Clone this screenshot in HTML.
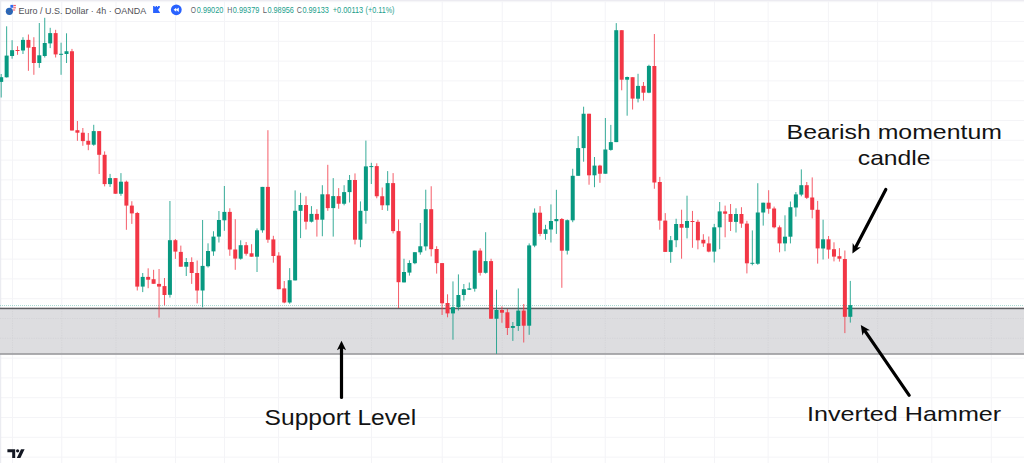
<!DOCTYPE html>
<html><head><meta charset="utf-8"><title>EUR/USD chart</title>
<style>html,body{margin:0;padding:0;background:#fff;width:1024px;height:463px;overflow:hidden}svg{display:block}</style>
</head><body>
<svg width="1024" height="463" viewBox="0 0 1024 463">
<rect x="12" y="0" width="1" height="463" fill="#f4f4f7"/>
<rect x="61.25" y="0" width="1" height="463" fill="#f4f4f7"/>
<rect x="115.5" y="0" width="1" height="463" fill="#f4f4f7"/>
<rect x="175" y="0" width="1" height="463" fill="#f4f4f7"/>
<rect x="224" y="0" width="1" height="463" fill="#f4f4f7"/>
<rect x="278" y="0" width="1" height="463" fill="#f4f4f7"/>
<rect x="371" y="0" width="1" height="463" fill="#f4f4f7"/>
<rect x="441.75" y="0" width="1" height="463" fill="#f4f4f7"/>
<rect x="501.75" y="0" width="1" height="463" fill="#f4f4f7"/>
<rect x="550.75" y="0" width="1" height="463" fill="#f4f4f7"/>
<rect x="604.75" y="0" width="1" height="463" fill="#f4f4f7"/>
<rect x="664" y="0" width="1" height="463" fill="#f4f4f7"/>
<rect x="714" y="0" width="1" height="463" fill="#f4f4f7"/>
<rect x="767.6" y="0" width="1" height="463" fill="#f4f4f7"/>
<rect x="827.9" y="0" width="1" height="463" fill="#f4f4f7"/>
<rect x="877.1" y="0" width="1" height="463" fill="#f4f4f7"/>
<rect x="931.3" y="0" width="1" height="463" fill="#f4f4f7"/>
<rect x="990.8" y="0" width="1" height="463" fill="#f4f4f7"/>
<rect x="0" y="1.2" width="1024" height="1" fill="#f4f4f7"/>
<rect x="0" y="21" width="1024" height="1" fill="#f4f4f7"/>
<rect x="0" y="40.8" width="1024" height="1" fill="#f4f4f7"/>
<rect x="0" y="60.6" width="1024" height="1" fill="#f4f4f7"/>
<rect x="0" y="80.4" width="1024" height="1" fill="#f4f4f7"/>
<rect x="0" y="100.2" width="1024" height="1" fill="#f4f4f7"/>
<rect x="0" y="120" width="1024" height="1" fill="#f4f4f7"/>
<rect x="0" y="139.8" width="1024" height="1" fill="#f4f4f7"/>
<rect x="0" y="159.6" width="1024" height="1" fill="#f4f4f7"/>
<rect x="0" y="179.4" width="1024" height="1" fill="#f4f4f7"/>
<rect x="0" y="199.2" width="1024" height="1" fill="#f4f4f7"/>
<rect x="0" y="219" width="1024" height="1" fill="#f4f4f7"/>
<rect x="0" y="238.8" width="1024" height="1" fill="#f4f4f7"/>
<rect x="0" y="258.6" width="1024" height="1" fill="#f4f4f7"/>
<rect x="0" y="278.4" width="1024" height="1" fill="#f4f4f7"/>
<rect x="0" y="298.2" width="1024" height="1" fill="#f4f4f7"/>
<rect x="0" y="318" width="1024" height="1" fill="#f4f4f7"/>
<rect x="0" y="337.8" width="1024" height="1" fill="#f4f4f7"/>
<rect x="0" y="357.6" width="1024" height="1" fill="#f4f4f7"/>
<rect x="0" y="377.4" width="1024" height="1" fill="#f4f4f7"/>
<rect x="0" y="397.2" width="1024" height="1" fill="#f4f4f7"/>
<rect x="0" y="417" width="1024" height="1" fill="#f4f4f7"/>
<rect x="0" y="436.8" width="1024" height="1" fill="#f4f4f7"/>
<rect x="0" y="456.6" width="1024" height="1" fill="#f4f4f7"/>
<rect x="0" y="0" width="1024" height="1" fill="#ecebf1"/>
<rect x="0" y="0" width="1.2" height="463" fill="#ebecf1"/>
<rect x="0" y="308.5" width="1024" height="45.5" fill="#dddde0"/>
<line x1="0" y1="318.5" x2="1024" y2="318.5" stroke="#d2d2d5" stroke-width="0.8" stroke-dasharray="1.2,1.2"/>
<line x1="0" y1="338.3" x2="1024" y2="338.3" stroke="#d2d2d5" stroke-width="0.8" stroke-dasharray="1.2,1.2"/>
<line x1="12.5" y1="308.5" x2="12.5" y2="354.0" stroke="#d2d2d5" stroke-width="0.8" stroke-dasharray="1.2,1.2"/>
<line x1="61.75" y1="308.5" x2="61.75" y2="354.0" stroke="#d2d2d5" stroke-width="0.8" stroke-dasharray="1.2,1.2"/>
<line x1="116" y1="308.5" x2="116" y2="354.0" stroke="#d2d2d5" stroke-width="0.8" stroke-dasharray="1.2,1.2"/>
<line x1="175.5" y1="308.5" x2="175.5" y2="354.0" stroke="#d2d2d5" stroke-width="0.8" stroke-dasharray="1.2,1.2"/>
<line x1="224.5" y1="308.5" x2="224.5" y2="354.0" stroke="#d2d2d5" stroke-width="0.8" stroke-dasharray="1.2,1.2"/>
<line x1="278.5" y1="308.5" x2="278.5" y2="354.0" stroke="#d2d2d5" stroke-width="0.8" stroke-dasharray="1.2,1.2"/>
<line x1="371.5" y1="308.5" x2="371.5" y2="354.0" stroke="#d2d2d5" stroke-width="0.8" stroke-dasharray="1.2,1.2"/>
<line x1="442.25" y1="308.5" x2="442.25" y2="354.0" stroke="#d2d2d5" stroke-width="0.8" stroke-dasharray="1.2,1.2"/>
<line x1="502.25" y1="308.5" x2="502.25" y2="354.0" stroke="#d2d2d5" stroke-width="0.8" stroke-dasharray="1.2,1.2"/>
<line x1="551.25" y1="308.5" x2="551.25" y2="354.0" stroke="#d2d2d5" stroke-width="0.8" stroke-dasharray="1.2,1.2"/>
<line x1="605.25" y1="308.5" x2="605.25" y2="354.0" stroke="#d2d2d5" stroke-width="0.8" stroke-dasharray="1.2,1.2"/>
<line x1="664.5" y1="308.5" x2="664.5" y2="354.0" stroke="#d2d2d5" stroke-width="0.8" stroke-dasharray="1.2,1.2"/>
<line x1="714.5" y1="308.5" x2="714.5" y2="354.0" stroke="#d2d2d5" stroke-width="0.8" stroke-dasharray="1.2,1.2"/>
<line x1="768.1" y1="308.5" x2="768.1" y2="354.0" stroke="#d2d2d5" stroke-width="0.8" stroke-dasharray="1.2,1.2"/>
<line x1="828.4" y1="308.5" x2="828.4" y2="354.0" stroke="#d2d2d5" stroke-width="0.8" stroke-dasharray="1.2,1.2"/>
<line x1="877.6" y1="308.5" x2="877.6" y2="354.0" stroke="#d2d2d5" stroke-width="0.8" stroke-dasharray="1.2,1.2"/>
<line x1="931.8" y1="308.5" x2="931.8" y2="354.0" stroke="#d2d2d5" stroke-width="0.8" stroke-dasharray="1.2,1.2"/>
<line x1="991.3" y1="308.5" x2="991.3" y2="354.0" stroke="#d2d2d5" stroke-width="0.8" stroke-dasharray="1.2,1.2"/>
<rect x="0" y="307.7" width="1024" height="1.5" fill="#5d5d60"/>
<rect x="0" y="353.2" width="1024" height="1.6" fill="#9a9a9d"/>
<rect x="0.7" y="74" width="1" height="23.5" fill="#089981" opacity="0.8"/>
<rect x="-0.8" y="77.2" width="4" height="4.7" fill="#089981"/>
<rect x="6.14" y="26.3" width="1" height="51.2" fill="#089981" opacity="0.8"/>
<rect x="4.64" y="55.6" width="4" height="21.7" fill="#089981"/>
<rect x="11.59" y="40.2" width="1" height="18.5" fill="#089981" opacity="0.8"/>
<rect x="10.09" y="50.2" width="4" height="5.8" fill="#089981"/>
<rect x="17.03" y="46.2" width="1" height="8.6" fill="#F23645" opacity="0.8"/>
<rect x="15.53" y="50" width="4" height="1" fill="#F23645"/>
<rect x="22.47" y="37.2" width="1" height="16.8" fill="#089981" opacity="0.8"/>
<rect x="20.97" y="39.9" width="4" height="10.6" fill="#089981"/>
<rect x="27.91" y="34.5" width="1" height="36.3" fill="#F23645" opacity="0.8"/>
<rect x="26.41" y="39.9" width="4" height="7.8" fill="#F23645"/>
<rect x="33.36" y="37.2" width="1" height="37.6" fill="#F23645" opacity="0.8"/>
<rect x="31.86" y="47" width="4" height="16" fill="#F23645"/>
<rect x="38.8" y="23" width="1" height="44.8" fill="#089981" opacity="0.8"/>
<rect x="37.3" y="55.3" width="4" height="7.7" fill="#089981"/>
<rect x="44.24" y="17.8" width="1" height="39.7" fill="#089981" opacity="0.8"/>
<rect x="42.74" y="43" width="4" height="13" fill="#089981"/>
<rect x="49.69" y="27.8" width="1" height="20.3" fill="#089981" opacity="0.8"/>
<rect x="48.19" y="33.1" width="4" height="10.3" fill="#089981"/>
<rect x="55.13" y="29.8" width="1" height="27.7" fill="#F23645" opacity="0.8"/>
<rect x="53.63" y="33.1" width="4" height="21.3" fill="#F23645"/>
<rect x="60.57" y="42.7" width="1" height="32.1" fill="#089981" opacity="0.8"/>
<rect x="59.07" y="53.8" width="4" height="1" fill="#089981"/>
<rect x="66.02" y="33.3" width="1" height="29.7" fill="#089981" opacity="0.8"/>
<rect x="64.52" y="51.25" width="4" height="2.75" fill="#089981"/>
<rect x="71.46" y="48.9" width="1" height="81.6" fill="#F23645" opacity="0.8"/>
<rect x="69.96" y="51.25" width="4" height="79.25" fill="#F23645"/>
<rect x="76.9" y="121" width="1" height="19.8" fill="#F23645" opacity="0.8"/>
<rect x="75.4" y="130.2" width="4" height="2.5" fill="#F23645"/>
<rect x="82.34" y="128" width="1" height="17.8" fill="#F23645" opacity="0.8"/>
<rect x="80.84" y="132.7" width="4" height="8.4" fill="#F23645"/>
<rect x="87.79" y="133" width="1" height="17.2" fill="#F23645" opacity="0.8"/>
<rect x="86.29" y="140.8" width="4" height="3.9" fill="#F23645"/>
<rect x="93.23" y="124.8" width="1" height="21" fill="#089981" opacity="0.8"/>
<rect x="91.73" y="131.1" width="4" height="13.6" fill="#089981"/>
<rect x="98.67" y="131.1" width="1" height="42.9" fill="#F23645" opacity="0.8"/>
<rect x="97.17" y="131.1" width="4" height="23.7" fill="#F23645"/>
<rect x="104.12" y="151.4" width="1" height="35" fill="#F23645" opacity="0.8"/>
<rect x="102.62" y="154.8" width="4" height="29.3" fill="#F23645"/>
<rect x="109.56" y="173.9" width="1" height="13" fill="#089981" opacity="0.8"/>
<rect x="108.06" y="178.1" width="4" height="6" fill="#089981"/>
<rect x="115" y="178.1" width="1" height="15.65" fill="#F23645" opacity="0.8"/>
<rect x="113.5" y="178.1" width="4" height="15.65" fill="#F23645"/>
<rect x="120.45" y="173.1" width="1" height="22.7" fill="#089981" opacity="0.8"/>
<rect x="118.95" y="181.7" width="4" height="12.05" fill="#089981"/>
<rect x="125.89" y="180.6" width="1" height="49.2" fill="#F23645" opacity="0.8"/>
<rect x="124.39" y="181.7" width="4" height="23.9" fill="#F23645"/>
<rect x="131.33" y="201.25" width="1" height="22.65" fill="#F23645" opacity="0.8"/>
<rect x="129.83" y="205.6" width="4" height="7.8" fill="#F23645"/>
<rect x="136.77" y="211.9" width="1" height="78.6" fill="#F23645" opacity="0.8"/>
<rect x="135.27" y="213" width="4" height="73.6" fill="#F23645"/>
<rect x="142.22" y="273" width="1" height="19.1" fill="#089981" opacity="0.8"/>
<rect x="140.72" y="276.9" width="4" height="9.7" fill="#089981"/>
<rect x="147.66" y="268.3" width="1" height="19.9" fill="#F23645" opacity="0.8"/>
<rect x="146.16" y="276.9" width="4" height="2.8" fill="#F23645"/>
<rect x="153.1" y="269.8" width="1" height="14" fill="#F23645" opacity="0.8"/>
<rect x="151.6" y="279.2" width="4" height="4.6" fill="#F23645"/>
<rect x="158.55" y="269" width="1" height="48.6" fill="#F23645" opacity="0.8"/>
<rect x="157.05" y="283.9" width="4" height="2.7" fill="#F23645"/>
<rect x="163.99" y="278" width="1" height="27.4" fill="#F23645" opacity="0.8"/>
<rect x="162.49" y="286.1" width="4" height="8.9" fill="#F23645"/>
<rect x="169.43" y="201" width="1" height="96.6" fill="#089981" opacity="0.8"/>
<rect x="167.93" y="240.2" width="4" height="54.6" fill="#089981"/>
<rect x="174.88" y="239" width="1" height="19.9" fill="#F23645" opacity="0.8"/>
<rect x="173.38" y="240.2" width="4" height="11.4" fill="#F23645"/>
<rect x="180.32" y="245.6" width="1" height="21.1" fill="#F23645" opacity="0.8"/>
<rect x="178.82" y="251.9" width="4" height="14.8" fill="#F23645"/>
<rect x="185.76" y="258" width="1" height="18" fill="#089981" opacity="0.8"/>
<rect x="184.26" y="262" width="4" height="4.7" fill="#089981"/>
<rect x="191.2" y="257.3" width="1" height="26.6" fill="#F23645" opacity="0.8"/>
<rect x="189.7" y="262" width="4" height="11" fill="#F23645"/>
<rect x="196.65" y="260.5" width="1" height="42.9" fill="#F23645" opacity="0.8"/>
<rect x="195.15" y="273" width="4" height="17.5" fill="#F23645"/>
<rect x="202.09" y="220" width="1" height="87.3" fill="#089981" opacity="0.8"/>
<rect x="200.59" y="265.9" width="4" height="24.6" fill="#089981"/>
<rect x="207.53" y="243.3" width="1" height="24.2" fill="#089981" opacity="0.8"/>
<rect x="206.03" y="251" width="4" height="15.25" fill="#089981"/>
<rect x="212.98" y="231.25" width="1" height="24.55" fill="#089981" opacity="0.8"/>
<rect x="211.48" y="236.6" width="4" height="14.8" fill="#089981"/>
<rect x="218.42" y="211" width="1" height="31.5" fill="#089981" opacity="0.8"/>
<rect x="216.92" y="220" width="4" height="16.6" fill="#089981"/>
<rect x="223.86" y="186" width="1" height="44.8" fill="#089981" opacity="0.8"/>
<rect x="222.36" y="211.9" width="4" height="8.4" fill="#089981"/>
<rect x="229.31" y="208.3" width="1" height="47.5" fill="#F23645" opacity="0.8"/>
<rect x="227.81" y="211.9" width="4" height="37.6" fill="#F23645"/>
<rect x="234.75" y="219.2" width="1" height="50.6" fill="#F23645" opacity="0.8"/>
<rect x="233.25" y="249.5" width="4" height="9.1" fill="#F23645"/>
<rect x="240.19" y="240.3" width="1" height="19.4" fill="#089981" opacity="0.8"/>
<rect x="238.69" y="245.2" width="4" height="13.5" fill="#089981"/>
<rect x="245.63" y="242" width="1" height="13.6" fill="#F23645" opacity="0.8"/>
<rect x="244.13" y="245.2" width="4" height="8.55" fill="#F23645"/>
<rect x="251.08" y="244.2" width="1" height="12.5" fill="#F23645" opacity="0.8"/>
<rect x="249.58" y="253.3" width="4" height="3.4" fill="#F23645"/>
<rect x="256.52" y="228.4" width="1" height="43.6" fill="#089981" opacity="0.8"/>
<rect x="255.02" y="230.3" width="4" height="26.4" fill="#089981"/>
<rect x="261.96" y="186.9" width="1" height="45.8" fill="#089981" opacity="0.8"/>
<rect x="260.46" y="186.9" width="4" height="43.4" fill="#089981"/>
<rect x="267.41" y="130.2" width="1" height="112.6" fill="#F23645" opacity="0.8"/>
<rect x="265.91" y="186.9" width="4" height="52.8" fill="#F23645"/>
<rect x="272.85" y="235.8" width="1" height="26.9" fill="#F23645" opacity="0.8"/>
<rect x="271.35" y="239.4" width="4" height="16.6" fill="#F23645"/>
<rect x="278.29" y="252.2" width="1" height="37" fill="#F23645" opacity="0.8"/>
<rect x="276.79" y="255.6" width="4" height="33.6" fill="#F23645"/>
<rect x="283.74" y="281" width="1" height="22.3" fill="#F23645" opacity="0.8"/>
<rect x="282.24" y="288.4" width="4" height="14.1" fill="#F23645"/>
<rect x="289.18" y="268.1" width="1" height="35.65" fill="#089981" opacity="0.8"/>
<rect x="287.68" y="280.2" width="4" height="22.3" fill="#089981"/>
<rect x="294.62" y="190.4" width="1" height="90" fill="#089981" opacity="0.8"/>
<rect x="293.12" y="210.8" width="4" height="69.6" fill="#089981"/>
<rect x="300.06" y="192.8" width="1" height="45.3" fill="#089981" opacity="0.8"/>
<rect x="298.56" y="205" width="4" height="5.8" fill="#089981"/>
<rect x="305.51" y="196.3" width="1" height="33.2" fill="#F23645" opacity="0.8"/>
<rect x="304.01" y="205" width="4" height="16.7" fill="#F23645"/>
<rect x="310.95" y="206.1" width="1" height="16.4" fill="#089981" opacity="0.8"/>
<rect x="309.45" y="213.9" width="4" height="7.8" fill="#089981"/>
<rect x="316.39" y="209.2" width="1" height="27.4" fill="#F23645" opacity="0.8"/>
<rect x="314.89" y="213.9" width="4" height="5.8" fill="#F23645"/>
<rect x="321.84" y="185.2" width="1" height="51.05" fill="#089981" opacity="0.8"/>
<rect x="320.34" y="194.3" width="4" height="25.4" fill="#089981"/>
<rect x="327.28" y="164.8" width="1" height="46" fill="#F23645" opacity="0.8"/>
<rect x="325.78" y="194.3" width="4" height="13.8" fill="#F23645"/>
<rect x="332.72" y="178.1" width="1" height="58.5" fill="#089981" opacity="0.8"/>
<rect x="331.22" y="196.1" width="4" height="12" fill="#089981"/>
<rect x="338.17" y="188.1" width="1" height="20.65" fill="#F23645" opacity="0.8"/>
<rect x="336.67" y="196.1" width="4" height="7.65" fill="#F23645"/>
<rect x="343.61" y="185.2" width="1" height="20.1" fill="#089981" opacity="0.8"/>
<rect x="342.11" y="192.1" width="4" height="11.65" fill="#089981"/>
<rect x="349.05" y="175" width="1" height="27.5" fill="#089981" opacity="0.8"/>
<rect x="347.55" y="180" width="4" height="12.1" fill="#089981"/>
<rect x="354.49" y="173.4" width="1" height="71" fill="#F23645" opacity="0.8"/>
<rect x="352.99" y="180" width="4" height="59.7" fill="#F23645"/>
<rect x="359.94" y="201.4" width="1" height="45.8" fill="#089981" opacity="0.8"/>
<rect x="358.44" y="210.8" width="4" height="28.9" fill="#089981"/>
<rect x="365.38" y="140.6" width="1" height="83.15" fill="#089981" opacity="0.8"/>
<rect x="363.88" y="166.4" width="4" height="44.4" fill="#089981"/>
<rect x="370.82" y="162.8" width="1" height="21.2" fill="#089981" opacity="0.8"/>
<rect x="369.32" y="166.1" width="4" height="1" fill="#089981"/>
<rect x="376.27" y="163.3" width="1" height="35" fill="#F23645" opacity="0.8"/>
<rect x="374.77" y="166.1" width="4" height="30.15" fill="#F23645"/>
<rect x="381.71" y="187.5" width="1" height="22.5" fill="#F23645" opacity="0.8"/>
<rect x="380.21" y="196.25" width="4" height="9.05" fill="#F23645"/>
<rect x="387.15" y="171.1" width="1" height="39.7" fill="#089981" opacity="0.8"/>
<rect x="385.65" y="183.1" width="4" height="22.2" fill="#089981"/>
<rect x="392.6" y="173.1" width="1" height="60.3" fill="#F23645" opacity="0.8"/>
<rect x="391.1" y="183.1" width="4" height="48" fill="#F23645"/>
<rect x="398.04" y="219.4" width="1" height="88.6" fill="#F23645" opacity="0.8"/>
<rect x="396.54" y="231.1" width="4" height="51.1" fill="#F23645"/>
<rect x="403.48" y="258.75" width="1" height="23.65" fill="#089981" opacity="0.8"/>
<rect x="401.98" y="272" width="4" height="10.4" fill="#089981"/>
<rect x="408.92" y="260.3" width="1" height="15.3" fill="#089981" opacity="0.8"/>
<rect x="407.42" y="263" width="4" height="9.6" fill="#089981"/>
<rect x="414.37" y="252.2" width="1" height="12" fill="#089981" opacity="0.8"/>
<rect x="412.87" y="252.2" width="4" height="11" fill="#089981"/>
<rect x="419.81" y="223" width="1" height="31.7" fill="#089981" opacity="0.8"/>
<rect x="418.31" y="246.25" width="4" height="6.05" fill="#089981"/>
<rect x="425.25" y="189.7" width="1" height="60.9" fill="#089981" opacity="0.8"/>
<rect x="423.75" y="209.2" width="4" height="37.2" fill="#089981"/>
<rect x="430.7" y="186.25" width="1" height="70.15" fill="#F23645" opacity="0.8"/>
<rect x="429.2" y="209.2" width="4" height="40" fill="#F23645"/>
<rect x="436.14" y="246.25" width="1" height="27.35" fill="#F23645" opacity="0.8"/>
<rect x="434.64" y="249" width="4" height="14.1" fill="#F23645"/>
<rect x="441.58" y="263.1" width="1" height="51.9" fill="#F23645" opacity="0.8"/>
<rect x="440.08" y="263.1" width="4" height="40.2" fill="#F23645"/>
<rect x="447.03" y="294.3" width="1" height="23" fill="#F23645" opacity="0.8"/>
<rect x="445.53" y="303" width="4" height="10.4" fill="#F23645"/>
<rect x="452.47" y="281.4" width="1" height="58.3" fill="#089981" opacity="0.8"/>
<rect x="450.97" y="307.2" width="4" height="6.2" fill="#089981"/>
<rect x="457.91" y="274.4" width="1" height="36.1" fill="#089981" opacity="0.8"/>
<rect x="456.41" y="295" width="4" height="12.2" fill="#089981"/>
<rect x="463.35" y="284" width="1" height="16.6" fill="#089981" opacity="0.8"/>
<rect x="461.85" y="289.2" width="4" height="5.8" fill="#089981"/>
<rect x="468.8" y="282.5" width="1" height="7.5" fill="#089981" opacity="0.8"/>
<rect x="467.3" y="288.4" width="4" height="1.3" fill="#089981"/>
<rect x="474.24" y="250.6" width="1" height="41" fill="#089981" opacity="0.8"/>
<rect x="472.74" y="250.6" width="4" height="38.15" fill="#089981"/>
<rect x="479.68" y="248.3" width="1" height="27.3" fill="#F23645" opacity="0.8"/>
<rect x="478.18" y="250.6" width="4" height="22.2" fill="#F23645"/>
<rect x="485.13" y="232.2" width="1" height="41.4" fill="#089981" opacity="0.8"/>
<rect x="483.63" y="261.1" width="4" height="11.7" fill="#089981"/>
<rect x="490.57" y="258.75" width="1" height="60" fill="#F23645" opacity="0.8"/>
<rect x="489.07" y="261.1" width="4" height="57.65" fill="#F23645"/>
<rect x="496.01" y="289.7" width="1" height="64.1" fill="#089981" opacity="0.8"/>
<rect x="494.51" y="310" width="4" height="8.75" fill="#089981"/>
<rect x="501.46" y="306.4" width="1" height="16.4" fill="#F23645" opacity="0.8"/>
<rect x="499.96" y="310" width="4" height="2.7" fill="#F23645"/>
<rect x="506.9" y="309" width="1" height="26" fill="#F23645" opacity="0.8"/>
<rect x="505.4" y="312.3" width="4" height="15.7" fill="#F23645"/>
<rect x="512.34" y="322" width="1" height="18.9" fill="#089981" opacity="0.8"/>
<rect x="510.84" y="326" width="4" height="1.9" fill="#089981"/>
<rect x="517.78" y="288.4" width="1" height="42.5" fill="#089981" opacity="0.8"/>
<rect x="516.28" y="310.6" width="4" height="15.4" fill="#089981"/>
<rect x="523.23" y="304" width="1" height="38.5" fill="#F23645" opacity="0.8"/>
<rect x="521.73" y="310.6" width="4" height="15.1" fill="#F23645"/>
<rect x="528.67" y="243.4" width="1" height="91.4" fill="#089981" opacity="0.8"/>
<rect x="527.17" y="245.4" width="4" height="80.3" fill="#089981"/>
<rect x="534.11" y="208.4" width="1" height="38.8" fill="#089981" opacity="0.8"/>
<rect x="532.61" y="212.7" width="4" height="32.9" fill="#089981"/>
<rect x="539.56" y="206.1" width="1" height="30.15" fill="#F23645" opacity="0.8"/>
<rect x="538.06" y="212.7" width="4" height="21.2" fill="#F23645"/>
<rect x="545" y="224.8" width="1" height="14.9" fill="#089981" opacity="0.8"/>
<rect x="543.5" y="229.3" width="4" height="4.6" fill="#089981"/>
<rect x="550.44" y="204.4" width="1" height="38.1" fill="#089981" opacity="0.8"/>
<rect x="548.94" y="221" width="4" height="8.5" fill="#089981"/>
<rect x="555.89" y="189.8" width="1" height="44.1" fill="#089981" opacity="0.8"/>
<rect x="554.39" y="219" width="4" height="2.2" fill="#089981"/>
<rect x="561.33" y="218" width="1" height="69.8" fill="#F23645" opacity="0.8"/>
<rect x="559.83" y="219" width="4" height="31.7" fill="#F23645"/>
<rect x="566.77" y="219.5" width="1" height="35" fill="#089981" opacity="0.8"/>
<rect x="565.27" y="220.2" width="4" height="30.5" fill="#089981"/>
<rect x="572.22" y="168.75" width="1" height="53.45" fill="#089981" opacity="0.8"/>
<rect x="570.72" y="175.8" width="4" height="44.5" fill="#089981"/>
<rect x="577.66" y="136.1" width="1" height="39.7" fill="#089981" opacity="0.8"/>
<rect x="576.16" y="148.1" width="4" height="27.7" fill="#089981"/>
<rect x="583.1" y="106.7" width="1" height="55" fill="#089981" opacity="0.8"/>
<rect x="581.6" y="113.75" width="4" height="34.35" fill="#089981"/>
<rect x="588.54" y="113.75" width="1" height="70.95" fill="#F23645" opacity="0.8"/>
<rect x="587.04" y="113.75" width="4" height="61.55" fill="#F23645"/>
<rect x="593.99" y="157" width="1" height="30.2" fill="#089981" opacity="0.8"/>
<rect x="592.49" y="165.6" width="4" height="9.7" fill="#089981"/>
<rect x="599.43" y="164.8" width="1" height="18" fill="#F23645" opacity="0.8"/>
<rect x="597.93" y="165.6" width="4" height="8.15" fill="#F23645"/>
<rect x="604.87" y="118" width="1" height="55.75" fill="#089981" opacity="0.8"/>
<rect x="603.37" y="149.5" width="4" height="24.25" fill="#089981"/>
<rect x="610.32" y="124.9" width="1" height="25.8" fill="#089981" opacity="0.8"/>
<rect x="608.82" y="142.1" width="4" height="7.8" fill="#089981"/>
<rect x="615.76" y="23.1" width="1" height="119" fill="#089981" opacity="0.8"/>
<rect x="614.26" y="30.2" width="4" height="111.9" fill="#089981"/>
<rect x="621.2" y="30.2" width="1" height="60.1" fill="#F23645" opacity="0.8"/>
<rect x="619.7" y="30.2" width="4" height="49.5" fill="#F23645"/>
<rect x="626.64" y="76.6" width="1" height="39.1" fill="#089981" opacity="0.8"/>
<rect x="625.14" y="77" width="4" height="2.7" fill="#089981"/>
<rect x="632.09" y="77.2" width="1" height="32.3" fill="#F23645" opacity="0.8"/>
<rect x="630.59" y="77.2" width="4" height="21.4" fill="#F23645"/>
<rect x="637.53" y="73.8" width="1" height="28.6" fill="#089981" opacity="0.8"/>
<rect x="636.03" y="85.9" width="4" height="12.8" fill="#089981"/>
<rect x="642.97" y="82" width="1" height="18.6" fill="#F23645" opacity="0.8"/>
<rect x="641.47" y="85.9" width="4" height="6.8" fill="#F23645"/>
<rect x="648.42" y="64.75" width="1" height="28.45" fill="#089981" opacity="0.8"/>
<rect x="646.92" y="65.9" width="4" height="26.8" fill="#089981"/>
<rect x="653.86" y="34" width="1" height="154.75" fill="#F23645" opacity="0.8"/>
<rect x="652.36" y="66" width="4" height="116.5" fill="#F23645"/>
<rect x="659.3" y="176.9" width="1" height="52.8" fill="#F23645" opacity="0.8"/>
<rect x="657.8" y="182" width="4" height="38.6" fill="#F23645"/>
<rect x="664.75" y="213.1" width="1" height="38.8" fill="#F23645" opacity="0.8"/>
<rect x="663.25" y="220.6" width="4" height="31.3" fill="#F23645"/>
<rect x="670.19" y="236" width="1" height="26.8" fill="#089981" opacity="0.8"/>
<rect x="668.69" y="240.2" width="4" height="11.7" fill="#089981"/>
<rect x="675.63" y="218.75" width="1" height="28.45" fill="#089981" opacity="0.8"/>
<rect x="674.13" y="224" width="4" height="16.2" fill="#089981"/>
<rect x="681.08" y="209.7" width="1" height="49" fill="#F23645" opacity="0.8"/>
<rect x="679.58" y="224" width="4" height="3.7" fill="#F23645"/>
<rect x="686.52" y="195.7" width="1" height="42.7" fill="#089981" opacity="0.8"/>
<rect x="685.02" y="221" width="4" height="6.8" fill="#089981"/>
<rect x="691.96" y="210.9" width="1" height="36.9" fill="#F23645" opacity="0.8"/>
<rect x="690.46" y="221" width="4" height="1" fill="#F23645"/>
<rect x="697.4" y="219.7" width="1" height="29.6" fill="#F23645" opacity="0.8"/>
<rect x="695.9" y="221.8" width="4" height="18.5" fill="#F23645"/>
<rect x="702.85" y="234.2" width="1" height="12.7" fill="#F23645" opacity="0.8"/>
<rect x="701.35" y="239.8" width="4" height="3.6" fill="#F23645"/>
<rect x="708.29" y="236.5" width="1" height="15.8" fill="#F23645" opacity="0.8"/>
<rect x="706.79" y="243.4" width="4" height="8.2" fill="#F23645"/>
<rect x="713.73" y="223.9" width="1" height="38.6" fill="#089981" opacity="0.8"/>
<rect x="712.23" y="227.3" width="4" height="24.3" fill="#089981"/>
<rect x="719.18" y="202" width="1" height="47.2" fill="#089981" opacity="0.8"/>
<rect x="717.68" y="211.4" width="4" height="15.9" fill="#089981"/>
<rect x="724.62" y="205.6" width="1" height="31.7" fill="#F23645" opacity="0.8"/>
<rect x="723.12" y="211.4" width="4" height="2.35" fill="#F23645"/>
<rect x="730.06" y="204" width="1" height="27" fill="#F23645" opacity="0.8"/>
<rect x="728.56" y="214" width="4" height="7.9" fill="#F23645"/>
<rect x="735.5" y="208.3" width="1" height="24.2" fill="#089981" opacity="0.8"/>
<rect x="734" y="214" width="4" height="7.9" fill="#089981"/>
<rect x="740.95" y="207.2" width="1" height="20.6" fill="#F23645" opacity="0.8"/>
<rect x="739.45" y="214" width="4" height="9.6" fill="#F23645"/>
<rect x="746.39" y="220.8" width="1" height="52.6" fill="#F23645" opacity="0.8"/>
<rect x="744.89" y="223.6" width="4" height="39.7" fill="#F23645"/>
<rect x="751.83" y="230.4" width="1" height="34.9" fill="#089981" opacity="0.8"/>
<rect x="750.33" y="262.8" width="4" height="1" fill="#089981"/>
<rect x="757.28" y="183.2" width="1" height="81.6" fill="#089981" opacity="0.8"/>
<rect x="755.78" y="212.5" width="4" height="51.25" fill="#089981"/>
<rect x="762.72" y="202.7" width="1" height="22.9" fill="#089981" opacity="0.8"/>
<rect x="761.22" y="202.7" width="4" height="9.8" fill="#089981"/>
<rect x="768.16" y="190.2" width="1" height="23.55" fill="#F23645" opacity="0.8"/>
<rect x="766.66" y="202.7" width="4" height="6.05" fill="#F23645"/>
<rect x="773.61" y="206.6" width="1" height="21.8" fill="#F23645" opacity="0.8"/>
<rect x="772.11" y="208.5" width="4" height="18.8" fill="#F23645"/>
<rect x="779.05" y="225.5" width="1" height="26.8" fill="#F23645" opacity="0.8"/>
<rect x="777.55" y="227.3" width="4" height="16.1" fill="#F23645"/>
<rect x="784.49" y="215.3" width="1" height="35.95" fill="#089981" opacity="0.8"/>
<rect x="782.99" y="236.7" width="4" height="6.7" fill="#089981"/>
<rect x="789.93" y="201.5" width="1" height="41.9" fill="#089981" opacity="0.8"/>
<rect x="788.43" y="207.2" width="4" height="29.5" fill="#089981"/>
<rect x="795.38" y="192" width="1" height="24.6" fill="#089981" opacity="0.8"/>
<rect x="793.88" y="194.4" width="4" height="13.1" fill="#089981"/>
<rect x="800.82" y="169.4" width="1" height="26.9" fill="#089981" opacity="0.8"/>
<rect x="799.32" y="185.2" width="4" height="9.4" fill="#089981"/>
<rect x="806.26" y="182" width="1" height="17" fill="#F23645" opacity="0.8"/>
<rect x="804.76" y="185.2" width="4" height="12.6" fill="#F23645"/>
<rect x="811.71" y="177.4" width="1" height="41" fill="#F23645" opacity="0.8"/>
<rect x="810.21" y="197.5" width="4" height="12.3" fill="#F23645"/>
<rect x="817.15" y="200.9" width="1" height="62.7" fill="#F23645" opacity="0.8"/>
<rect x="815.65" y="209.8" width="4" height="38.6" fill="#F23645"/>
<rect x="822.59" y="219.7" width="1" height="39.8" fill="#089981" opacity="0.8"/>
<rect x="821.09" y="239.3" width="4" height="9.2" fill="#089981"/>
<rect x="828.04" y="236" width="1" height="22.7" fill="#F23645" opacity="0.8"/>
<rect x="826.54" y="239.3" width="4" height="10.3" fill="#F23645"/>
<rect x="833.48" y="242.3" width="1" height="19.1" fill="#F23645" opacity="0.8"/>
<rect x="831.98" y="249.2" width="4" height="7.4" fill="#F23645"/>
<rect x="838.92" y="248.1" width="1" height="13.5" fill="#F23645" opacity="0.8"/>
<rect x="837.42" y="256.2" width="4" height="2.5" fill="#F23645"/>
<rect x="844.37" y="250.5" width="1" height="82.6" fill="#F23645" opacity="0.8"/>
<rect x="842.87" y="259" width="4" height="57.8" fill="#F23645"/>
<rect x="849.81" y="280.9" width="1" height="41.7" fill="#089981" opacity="0.8"/>
<rect x="848.31" y="305.1" width="4" height="11.7" fill="#089981"/>
<line x1="0" y1="305.5" x2="1024" y2="305.5" stroke="#089981" stroke-width="1" stroke-dasharray="1,1" opacity="0.35"/>
<line x1="341.5" y1="397.5" x2="341.5" y2="346.5" stroke="#000" stroke-width="3.2" stroke-linecap="round"/><path d="M341.5,340.8 L346.1,350.3 L341.5,347.64 L336.9,350.3 Z" fill="#000"/>
<line x1="885.8" y1="189.5" x2="855.03" y2="248.55" stroke="#000" stroke-width="3.2" stroke-linecap="round"/><path d="M852.4,253.6 L852.71,243.05 L855.56,247.53 L860.87,247.3 Z" fill="#000"/>
<line x1="909.2" y1="395.3" x2="864.03" y2="329.69" stroke="#000" stroke-width="3.2" stroke-linecap="round"/><path d="M860.8,325 L869.98,330.22 L864.68,330.63 L862.4,335.43 Z" fill="#000"/>
<text x="786.6" y="138.75" font-family="Liberation Sans, sans-serif" font-size="21" fill="#131313" textLength="215.3" lengthAdjust="spacingAndGlyphs" >Bearish momentum</text>
<text x="857.8" y="165" font-family="Liberation Sans, sans-serif" font-size="21" fill="#131313" textLength="72.7" lengthAdjust="spacingAndGlyphs" >candle</text>
<text x="264.6" y="425.4" font-family="Liberation Sans, sans-serif" font-size="21.3" fill="#131313" textLength="151.6" lengthAdjust="spacingAndGlyphs" >Support Level</text>
<text x="807" y="421.2" font-family="Liberation Sans, sans-serif" font-size="21" fill="#131313" textLength="194.2" lengthAdjust="spacingAndGlyphs" >Inverted Hammer</text>
<text x="18.6" y="13.6" font-family="Liberation Sans, sans-serif" font-size="9.2" fill="#505055" textLength="127.6" lengthAdjust="spacingAndGlyphs" >Euro / U.S. Dollar · 4h · OANDA</text>
<text x="190.7" y="13.1" font-family="Liberation Sans, sans-serif" font-size="8.8" fill="#5f6066" textLength="5.2" lengthAdjust="spacingAndGlyphs" >O</text>
<text x="196.8" y="13.1" font-family="Liberation Sans, sans-serif" font-size="8.8" fill="#22a08c" textLength="26.5" lengthAdjust="spacingAndGlyphs" >0.99020</text>
<text x="227.2" y="13.1" font-family="Liberation Sans, sans-serif" font-size="8.8" fill="#5f6066" textLength="5" lengthAdjust="spacingAndGlyphs" >H</text>
<text x="232.8" y="13.1" font-family="Liberation Sans, sans-serif" font-size="8.8" fill="#22a08c" textLength="26.5" lengthAdjust="spacingAndGlyphs" >0.99379</text>
<text x="262.7" y="13.1" font-family="Liberation Sans, sans-serif" font-size="8.8" fill="#5f6066" textLength="4.3" lengthAdjust="spacingAndGlyphs" >L</text>
<text x="267.4" y="13.1" font-family="Liberation Sans, sans-serif" font-size="8.8" fill="#22a08c" textLength="26.5" lengthAdjust="spacingAndGlyphs" >0.98956</text>
<text x="296.8" y="13.1" font-family="Liberation Sans, sans-serif" font-size="8.8" fill="#5f6066" textLength="5.2" lengthAdjust="spacingAndGlyphs" >C</text>
<text x="302.4" y="13.1" font-family="Liberation Sans, sans-serif" font-size="8.8" fill="#22a08c" textLength="26.5" lengthAdjust="spacingAndGlyphs" >0.99133</text>
<text x="332.8" y="13.1" font-family="Liberation Sans, sans-serif" font-size="8.8" fill="#22a08c" textLength="30.4" lengthAdjust="spacingAndGlyphs" >+0.00113</text>
<text x="365.5" y="13.1" font-family="Liberation Sans, sans-serif" font-size="8.8" fill="#22a08c" textLength="29" lengthAdjust="spacingAndGlyphs" >(+0.11%)</text>
<circle cx="9.4" cy="11.3" r="3.6" fill="#2a66b8"/><circle cx="8" cy="11.3" r="0.35" fill="#8a6a3a"/><circle cx="10.8" cy="11.3" r="0.35" fill="#8a6a3a"/><circle cx="9.4" cy="12.9" r="0.35" fill="#8a6a3a"/>
<rect x="10.4" y="4.9" width="2.9" height="2.9" fill="#2f6cf0"/><rect x="13.3" y="4.9" width="2.6" height="1.3" fill="#f0606e"/><rect x="13.3" y="7.2" width="2.6" height="1.2" fill="#f0606e"/><rect x="12.8" y="9.4" width="2.4" height="1.2" fill="#f07080"/>
<path d="M153.1,13.1 L153.1,5.9 L154.6,5.9 L154.6,7 L155.6,7 L155.6,5.9 L157.2,5.9 L157.2,7 L158,7 L158,5.9 L159.8,5.9 L159.8,7.4 L158.1,9.8 L159.9,12.4 L159.9,13.1 Z" fill="#2962ff"/>
<circle cx="176.3" cy="9.8" r="5.4" fill="#2962ff"/><path d="M173.6,9.8 L176.2,7.8 L176.2,11.8 Z M175.9,9.8 L178.8,7.6 L178.8,12 Z" fill="#fff"/>
<path d="M7.4,449.2 L15.2,449.2 L15.2,458.1 L12.2,458.1 L12.2,452.2 L7.4,452.2 Z" fill="#131722"/><circle cx="17.6" cy="450.8" r="1.6" fill="#131722"/><path d="M21,449.2 L24.6,449.2 L20.4,458.1 L16.8,458.1 Z" fill="#131722"/>
</svg>
</body></html>
